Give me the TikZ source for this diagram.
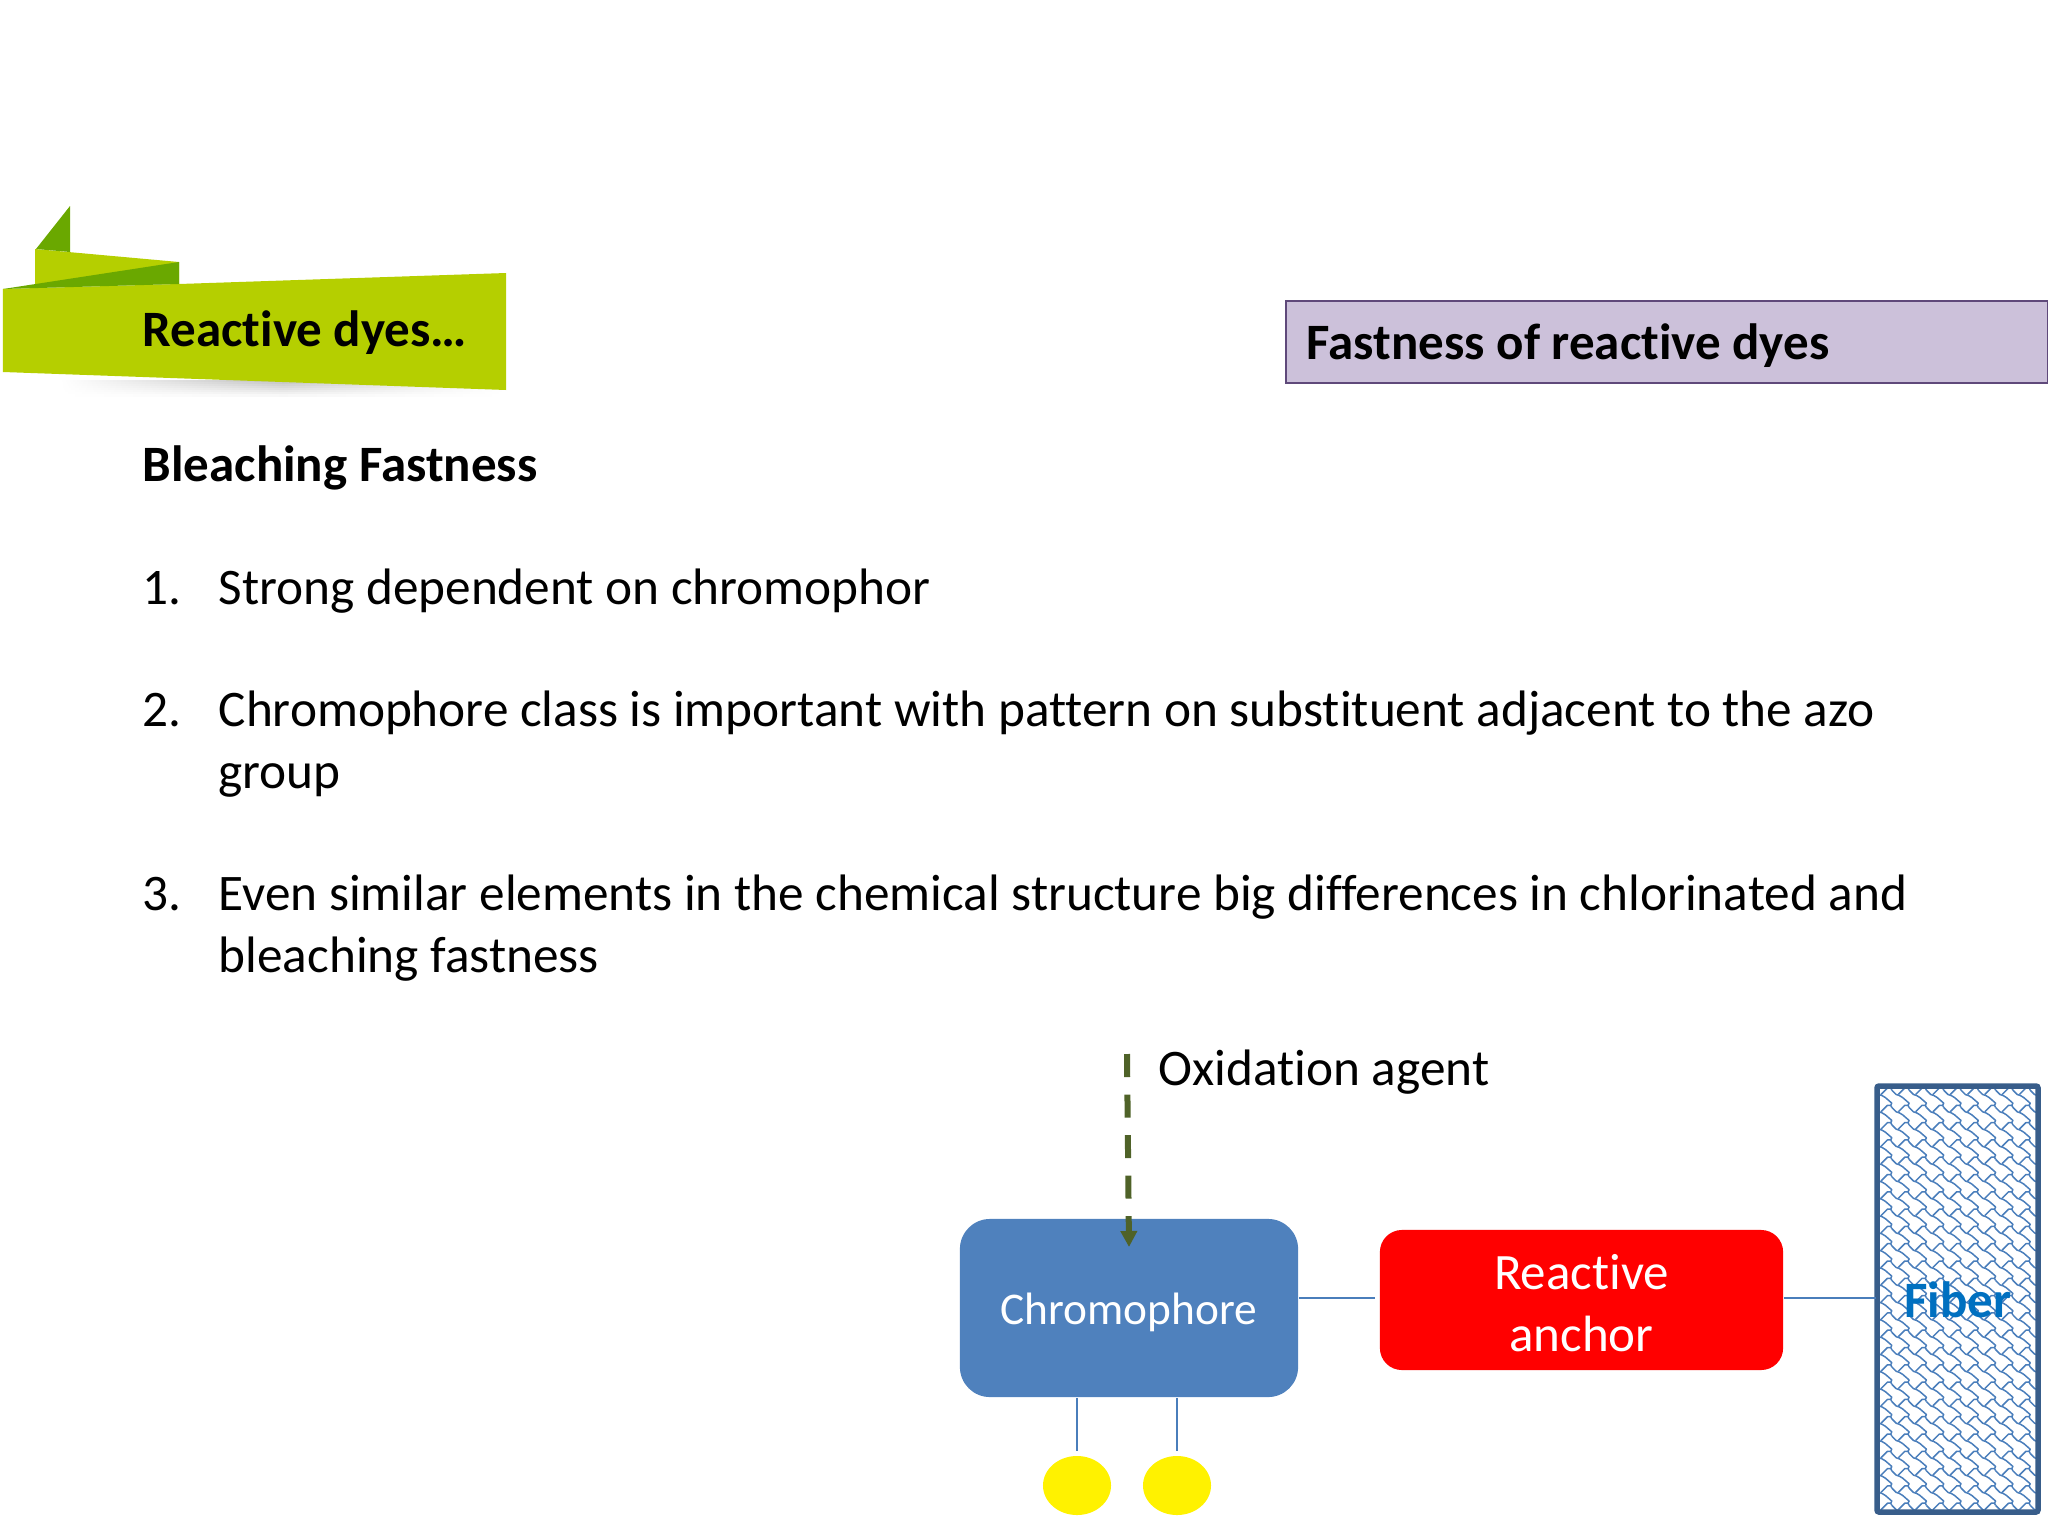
\documentclass[tikz,border=0pt]{standalone}
\usepackage{fontspec}
\setmainfont{Carlito}[Ligatures=NoCommon]
\usetikzlibrary{arrows.meta,shapes.geometric}
\definecolor{bannerlime}{HTML}{B5CF00}
\definecolor{bannerdark}{HTML}{6AA800}
\definecolor{titlefill}{HTML}{CCC1DA}
\definecolor{titleline}{HTML}{5F497A}
\definecolor{chromofill}{HTML}{4F81BD}
\definecolor{linkblue}{HTML}{4A7EBB}
\definecolor{fiberline}{HTML}{385D8A}
\definecolor{fibertext}{HTML}{0070C0}
\definecolor{agentgreen}{HTML}{4F6228}
\begin{document}
\begin{tikzpicture}[
        x=0.01cm, y=-0.01cm,
        body/.style={anchor=base west, inner sep=0pt, font=\fontsize{14.58}{18}\selectfont},
        heading/.style={anchor=base west, inner sep=0pt, font=\fontsize{14.5}{18}\selectfont\bfseries},
        block/.style={draw=none, inner sep=0pt, text=white, align=center, font=\fontsize{14.5}{17.6}\selectfont},
        atom/.style={ellipse, fill=yellow, minimum width=0.68cm, minimum height=0.59cm, inner sep=0pt},
        link/.style={draw=linkblue, line width=0.2mm}
    ]
        \useasboundingbox (0,0) rectangle (2048,1536);

        % Banner
        \foreach \k [evaluate=\k as \g using 24-3*\k] in {0,...,7} {
            \shade[left color=white, right color=white, middle color=black!\g] (60,{380+2*\k}) rectangle (506,{382+2*\k});
        }
        \fill[bannerlime] (35,249) -- (179,262) -- (179,284) -- (35,284) -- cycle;
        \fill[bannerdark] (36,249) -- (70,206) -- (70,252) -- cycle;
        \fill[bannerlime] (3,289) -- (179,284) -- (506,273) -- (506,390) -- (3,372) -- cycle;
        \fill[bannerdark] (3,289) -- (179,262) -- (179,284) -- cycle;
        \node[heading] (banner) at (142,346) {Reactive dyes…};

        % Title box
        \node[draw=titleline, fill=titlefill, line width=0.2mm, minimum width=7.62cm, minimum height=0.82cm, anchor=north west] (titlebox) at (1285,300) {};
        \node[heading] (title) at (1306,359) {Fastness of reactive dyes};

        % List
        \node[heading] (bleach) at (142,481) {Bleaching Fastness};
        \node[body] (n1) at (142,604) {1.};
        \node[body] (t1) at (218,604) {Strong dependent on chromophor};
        \node[body] (n2) at (142,726) {2.};
        \node[body] (t2) at (218,726) {Chromophore class is important with pattern on substituent adjacent to the azo};
        \node[body] (t2b) at (218,788) {group};
        \node[body] (n3) at (142,910) {3.};
        \node[body] (t3) at (218,910) {Even similar elements in the chemical structure big differences in chlorinated and};
        \node[body] (t3b) at (218,972) {bleaching fastness};

        % Diagram
        \node[block, fill=chromofill, rounded corners=0.3cm, minimum width=3.38cm, minimum height=1.78cm, font=\fontsize{12.9}{16}\selectfont] (chromo) at (1129,1308) {\raisebox{-0.04cm}[\height][\depth]{Chromophore}};
        \node[block, fill=red, rounded corners=0.22cm, minimum width=4.03cm, minimum height=1.40cm] (anchorbox) at (1581.5,1300) {\raisebox{-0.03cm}[\height][\depth]{Reactive}\\\raisebox{-0.03cm}[\height][\depth]{anchor}};
        \node[atom] (atom1) at (1077,1485.5) {};
        \node[atom] (atom2) at (1177,1485.5) {};

        % Fiber
        \node[minimum width=1.61cm, minimum height=4.26cm, inner sep=0pt] (fiber) at (1957.5,1299) {};
        \begin{scope}
            \clip (1877,1086) rectangle (2038,1512);
            \foreach \r in {-1,...,25} {
                \foreach \c in {-1,...,10} {
                    \draw[shift={({1874.5+\c*17.3},{1088+\r*17.3})}, x=0.0216cm, y=-0.0216cm, linkblue, line width=0.15mm, line join=round]
                        (0,1) -- (2,3) -- (3.5,3.5) -- (5,4.4) -- (8,7) -- (7.5,8) -- (8,9)
                        (7.5,8) -- (6,8) -- (3,11);
                }
            }
        \end{scope}
        \draw[fiberline, line width=0.55mm, rounded corners=0.02cm] (1877,1086) rectangle (2038,1512);
        \node[inner sep=0pt, text=fibertext, font=\fontsize{14.5}{18}\selectfont\bfseries] (fibername) at (1958,1300) {Fiber};

        % Connectors
        \coordinate (redgap) at (1375,1298);
        \draw[link] (chromo.east |- redgap) -- (redgap);
        \draw[link] (anchorbox.east |- redgap) -- (fiber.west |- redgap);
        \draw[link, shorten >=0.04cm] (chromo.south -| atom1) -- (atom1.north);
        \draw[link, shorten >=0.04cm] (chromo.south -| atom2) -- (atom2.north);

        % Oxidation agent
        \coordinate (agentstart) at (1127,1054);
        \coordinate (agentend) at (1129,1247);
        \draw[agentgreen, line width=0.6mm, dash pattern=on 0.23cm off 0.175cm, -{Triangle[length=0.16cm,width=0.16cm]}] (agentstart) -- (agentend);
        \node[body] (agent) at (1158,1085) {Oxidation agent};
\end{tikzpicture}
\end{document}
